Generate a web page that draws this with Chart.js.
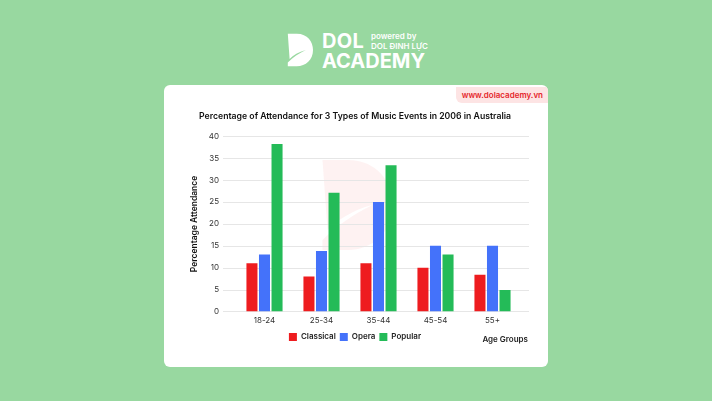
<!DOCTYPE html>
<html>
<head>
<meta charset="utf-8">
<script src="https://cdn.jsdelivr.net/npm/chart.js@4.4.1/dist/chart.umd.min.js"></script>
<style>
  html, body { margin: 0; padding: 0; }
  body {
    width: 712px; height: 401px; background: #98d8a0; position: relative;
    overflow: hidden; font-family: Inter, 'Noto Sans', sans-serif;
  }
  .logo { position: absolute; left: 285px; top: 31px; color: #fff; }
  .logo svg { position: absolute; left: 0; top: 1px; }
  .logo .dol { position: absolute; left: 37px; top: -2px; font-size: 20px; font-weight: 700; letter-spacing: 0.3px; }
  .logo .acad { position: absolute; left: 37px; top: 18px; font-size: 20px; font-weight: 700; white-space: nowrap; }
  .logo .pw { position: absolute; left: 86px; top: 0px; font-size: 8px; font-weight: 600; line-height: 10px; white-space: nowrap; }
  .card {
    position: absolute; left: 164px; top: 85px; width: 384px; height: 282px;
    background: #fff; border-radius: 6px; overflow: hidden;
  }
  .mark { position: absolute; left: 146px; top: 70px; }
  .badge {
    position: absolute; right: 0; top: 2px; padding: 3px 5px 3px 6px;
    background: #fde4e4; color: #e5262b; font-size: 8px; font-weight: 600;
    border-radius: 0 0 0 6px;
  }
  canvas { position: absolute; left: 0; top: 0; }
</style>
</head>
<body>
<div class="logo">
  <svg width="29" height="36" viewBox="0 0 30 40">
    <path d="M2 2 H12 C24 2 30 11 30 20 C30 31 22 38 12 38 H2 L2 34 C8 28 14 24 22 20 C14 22 8 26 4 30 Z" fill="#fff"/>
  </svg>
  <div class="dol">DOL</div>
  <div class="pw">powered by<br>DOL ĐINH LỰC</div>
  <div class="acad">ACADEMY</div>
</div>
<div class="card">
  <svg class="mark" width="90" height="100" viewBox="0 0 30 40">
    <path d="M2 2 H12 C24 2 30 11 30 20 C30 31 22 38 12 38 H2 L2 34 C8 28 14 24 22 20 C14 22 8 26 4 30 Z" fill="rgba(235,70,70,0.07)"/>
  </svg>
  <canvas id="attendanceChart" width="384" height="282"></canvas>
  <div class="badge">www.dolacademy.vn</div>
</div>
<script>
const ageGroups = ['18-24', '25-34', '35-44', '45-54', '55+'];
const classical = [11, 8, 11, 10, 8.4];
const opera = [13, 13.8, 25, 15, 15];
const popular = [38.3, 27.1, 33.4, 13, 4.9];
const yTicks = [0, 5, 10, 15, 20, 25, 30, 35, 40];

const GRID_LEFT = 13;
const GRID_RIGHT = 8;

// horizontal grid lines run a little past the bar area on both sides
const wideGrid = {
  id: 'wideGrid',
  beforeDatasetsDraw(chart) {
    const { ctx, chartArea, scales } = chart;
    ctx.save();
    ctx.strokeStyle = '#e6e6e6';
    ctx.lineWidth = 1;
    yTicks.forEach(v => {
      const y = Math.round(scales.y.getPixelForValue(v)) + 0.5;
      ctx.beginPath();
      ctx.moveTo(chartArea.left - GRID_LEFT, y);
      ctx.lineTo(chartArea.right + GRID_RIGHT, y);
      ctx.stroke();
    });
    ctx.restore();
  },
  // draws the x axis title on the legend row, aligned right
  afterDraw(chart) {
    const { ctx, legend, chartArea } = chart;
    ctx.save();
    ctx.font = '600 8px Inter';
    ctx.fillStyle = '#222';
    ctx.textAlign = 'right';
    ctx.textBaseline = 'middle';
    ctx.fillText('Age Groups', chartArea.right + GRID_RIGHT - 1, legend.top + legend.height / 2);
    ctx.restore();
  },
};

const makeSet = (label, data, color) => ({
  label,
  data,
  backgroundColor: color,
  borderColor: color,
  borderWidth: 0,
  categoryPercentage: 0.66,
  barPercentage: 0.88,
});

new Chart(document.getElementById('attendanceChart').getContext('2d'), {
  type: 'bar',
  data: {
    labels: ageGroups,
    datasets: [
      makeSet('Classical', classical, '#ee1c1f'),
      makeSet('Opera', opera, '#4472fa'),
      makeSet('Popular', popular, '#24bb58'),
    ],
  },
  options: {
    responsive: false,
    animation: false,
    layout: { padding: { left: 25, right: 27, top: 20, bottom: 16 } },
    plugins: {
      title: {
        display: true,
        text: 'Percentage of Attendance for 3 Types of Music Events in 2006 in Australia',
        color: '#111',
        font: { family: 'Inter', size: 8.7, weight: '600' },
        padding: { top: 6, bottom: 15 },
      },
      legend: {
        position: 'bottom',
        labels: {
          boxWidth: 8,
          boxHeight: 8,
          padding: 4,
          color: '#222',
          font: { family: 'Inter', size: 8, weight: '600' },
        },
      },
      tooltip: { enabled: false },
    },
    scales: {
      x: {
        grid: { display: false, drawTicks: false },
        border: { display: false },
        ticks: { color: '#333', font: { family: 'Inter', size: 8 }, padding: 4 },
      },
      y: {
        min: 0,
        max: 40,
        afterBuildTicks(axis) {
          axis.ticks = yTicks.map(v => ({ value: v }));
        },
        afterFit(axis) {
          axis.width = 47;
        },
        grid: { display: false, drawTicks: false },
        border: { display: false },
        ticks: { color: '#333', font: { family: 'Inter', size: 8 }, padding: 17 },
        title: {
          display: true,
          text: 'Percentage Attendance',
          color: '#111',
          font: { family: 'Inter', size: 8.5, weight: '600' },
          padding: { top: 0, bottom: 0 },
        },
      },
    },
  },
  plugins: [wideGrid],
});
</script>
</body>
</html>
